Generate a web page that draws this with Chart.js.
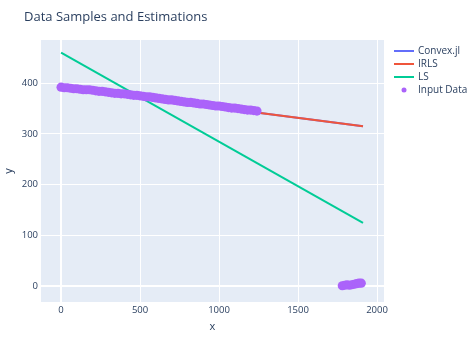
<!DOCTYPE html>
<html>
<head>
<meta charset="utf-8">
<script src="https://cdn.jsdelivr.net/npm/chart.js@4"></script>
<style>
  html, body { margin: 0; padding: 0; background: #fff; }
  #wrap { width: 474px; height: 338px; }
</style>
</head>
<body>
<div id="wrap"><canvas id="chart"></canvas></div>
<script>
// data
const sampleX = [0, 20, 40, 60, 80, 100, 120, 140, 160, 180, 200, 220, 240, 260, 280, 300,
  320, 340, 360, 380, 400, 420, 440, 460, 480, 500, 520, 540, 560, 580, 600, 620, 640,
  660, 680, 700, 720, 740, 760, 780, 800, 820, 840, 860, 880, 900, 920, 940, 960, 980,
  1000, 1020, 1040, 1060, 1080, 1100, 1120, 1140, 1160, 1180, 1200, 1220, 1240,
  1780, 1795, 1810, 1825, 1840, 1855, 1870, 1885, 1900]
const sampleY = [392, 391, 391, 390, 389, 389, 388, 387, 387, 387, 386, 385, 384, 384, 383, 382,
  381, 380, 380, 379, 379, 378, 377, 376, 376, 375, 374, 373, 373, 372, 371, 370, 369,
  368, 367, 367, 366, 365, 364, 363, 362, 362, 361, 360, 359, 359, 358, 357, 356, 355,
  355, 354, 353, 352, 351, 351, 350, 349, 348, 347, 347, 346, 345,
  1, 2, 3, 2, 3, 4, 5, 6, 6]

const fitX = [0, 1911]
const convexY = [392, 315]
const irlsY = [392, 315]
const lsY = [460, 125]

const xTicks = [0, 500, 1000, 1500, 2000]
const yTicks = [0, 100, 200, 300, 400]

const toPts = (xs, ys) => xs.map((x, i) => ({ x: x, y: ys[i] }))

const textColor = '#2a3f5f'
const font = 'Open Sans'

const plotBg = {
  id: 'plotBg',
  beforeDraw(chart) {
    const { ctx, chartArea: a } = chart
    ctx.save()
    ctx.fillStyle = '#E5ECF6'
    ctx.fillRect(a.left, a.top, a.right - a.left, a.bottom - a.top)
    ctx.restore()
  }
}

// plotly style title + legend
const decor = {
  id: 'decor',
  afterDraw(chart) {
    const ctx = chart.ctx
    ctx.save()
    ctx.fillStyle = textColor
    ctx.textBaseline = 'middle'
    ctx.font = '13px "' + font + '"'
    ctx.fillText('Data Samples and Estimations', 24, 17)

    ctx.font = '10px "' + font + '"'
    chart.data.datasets.forEach((ds, i) => {
      const y = 51 + i * 13
      if (ds.showLine) {
        ctx.strokeStyle = ds.borderColor
        ctx.lineWidth = 2
        ctx.beginPath()
        ctx.moveTo(394, y)
        ctx.lineTo(414, y)
        ctx.stroke()
      } else {
        ctx.fillStyle = ds.backgroundColor
        ctx.beginPath()
        ctx.arc(404, y, 2.5, 0, Math.PI * 2)
        ctx.fill()
      }
      ctx.fillStyle = textColor
      ctx.fillText(ds.label, 418, y)
    })
    ctx.restore()
  }
}

const lineDs = (label, ys, color, order) => ({
  label: label,
  data: toPts(fitX, ys),
  showLine: true,
  borderColor: color,
  backgroundColor: color,
  borderWidth: 2,
  pointRadius: 0,
  order: order
})

new Chart(document.getElementById('chart'), {
  type: 'scatter',
  data: {
    datasets: [
      lineDs('Convex.jl', convexY, '#636EFA', 3),
      lineDs('IRLS', irlsY, '#EF553B', 2),
      lineDs('LS', lsY, '#00CC96', 1),
      {
        label: 'Input Data',
        data: toPts(sampleX, sampleY),
        showLine: false,
        backgroundColor: '#AB63FA',
        borderWidth: 0,
        pointRadius: 4.6,
        order: 0
      }
    ]
  },
  options: {
    responsive: true,
    maintainAspectRatio: false,
    animation: false,
    layout: { padding: { top: 40, right: 90, left: 0, bottom: 0 } },
    plugins: {
      legend: { display: false },
      title: { display: false },
      tooltip: { enabled: false }
    },
    scales: {
      x: {
        type: 'linear',
        min: -127,
        max: 2044,
        afterFit(s) { s.height = 36 },
        afterBuildTicks(s) { s.ticks = xTicks.map(v => ({ value: v })) },
        border: { display: false },
        grid: {
          color: '#fff',
          lineWidth: c => (c.tick && c.tick.value === 0 ? 2 : 1),
          drawTicks: false
        },
        ticks: {
          color: textColor, font: { family: font, size: 9.5 }, padding: 3, maxRotation: 0,
          callback: v => String(v)
        },
        title: { display: true, text: 'x', color: textColor, font: { family: font, size: 11 }, padding: { top: 0, bottom: 5 } }
      },
      y: {
        type: 'linear',
        min: -31,
        max: 485,
        afterFit(s) { s.width = 41 },
        afterBuildTicks(s) { s.ticks = yTicks.map(v => ({ value: v })) },
        border: { display: false },
        grid: {
          color: '#fff',
          lineWidth: c => (c.tick && c.tick.value === 0 ? 2 : 1),
          drawTicks: false
        },
        ticks: { color: textColor, font: { family: font, size: 9.5 }, padding: 3, callback: v => String(v) },
        title: { display: true, text: 'y', color: textColor, font: { family: font, size: 11 }, padding: { top: 2, bottom: 0 } }
      }
    }
  },
  plugins: [plotBg, decor]
})
</script>
</body>
</html>
